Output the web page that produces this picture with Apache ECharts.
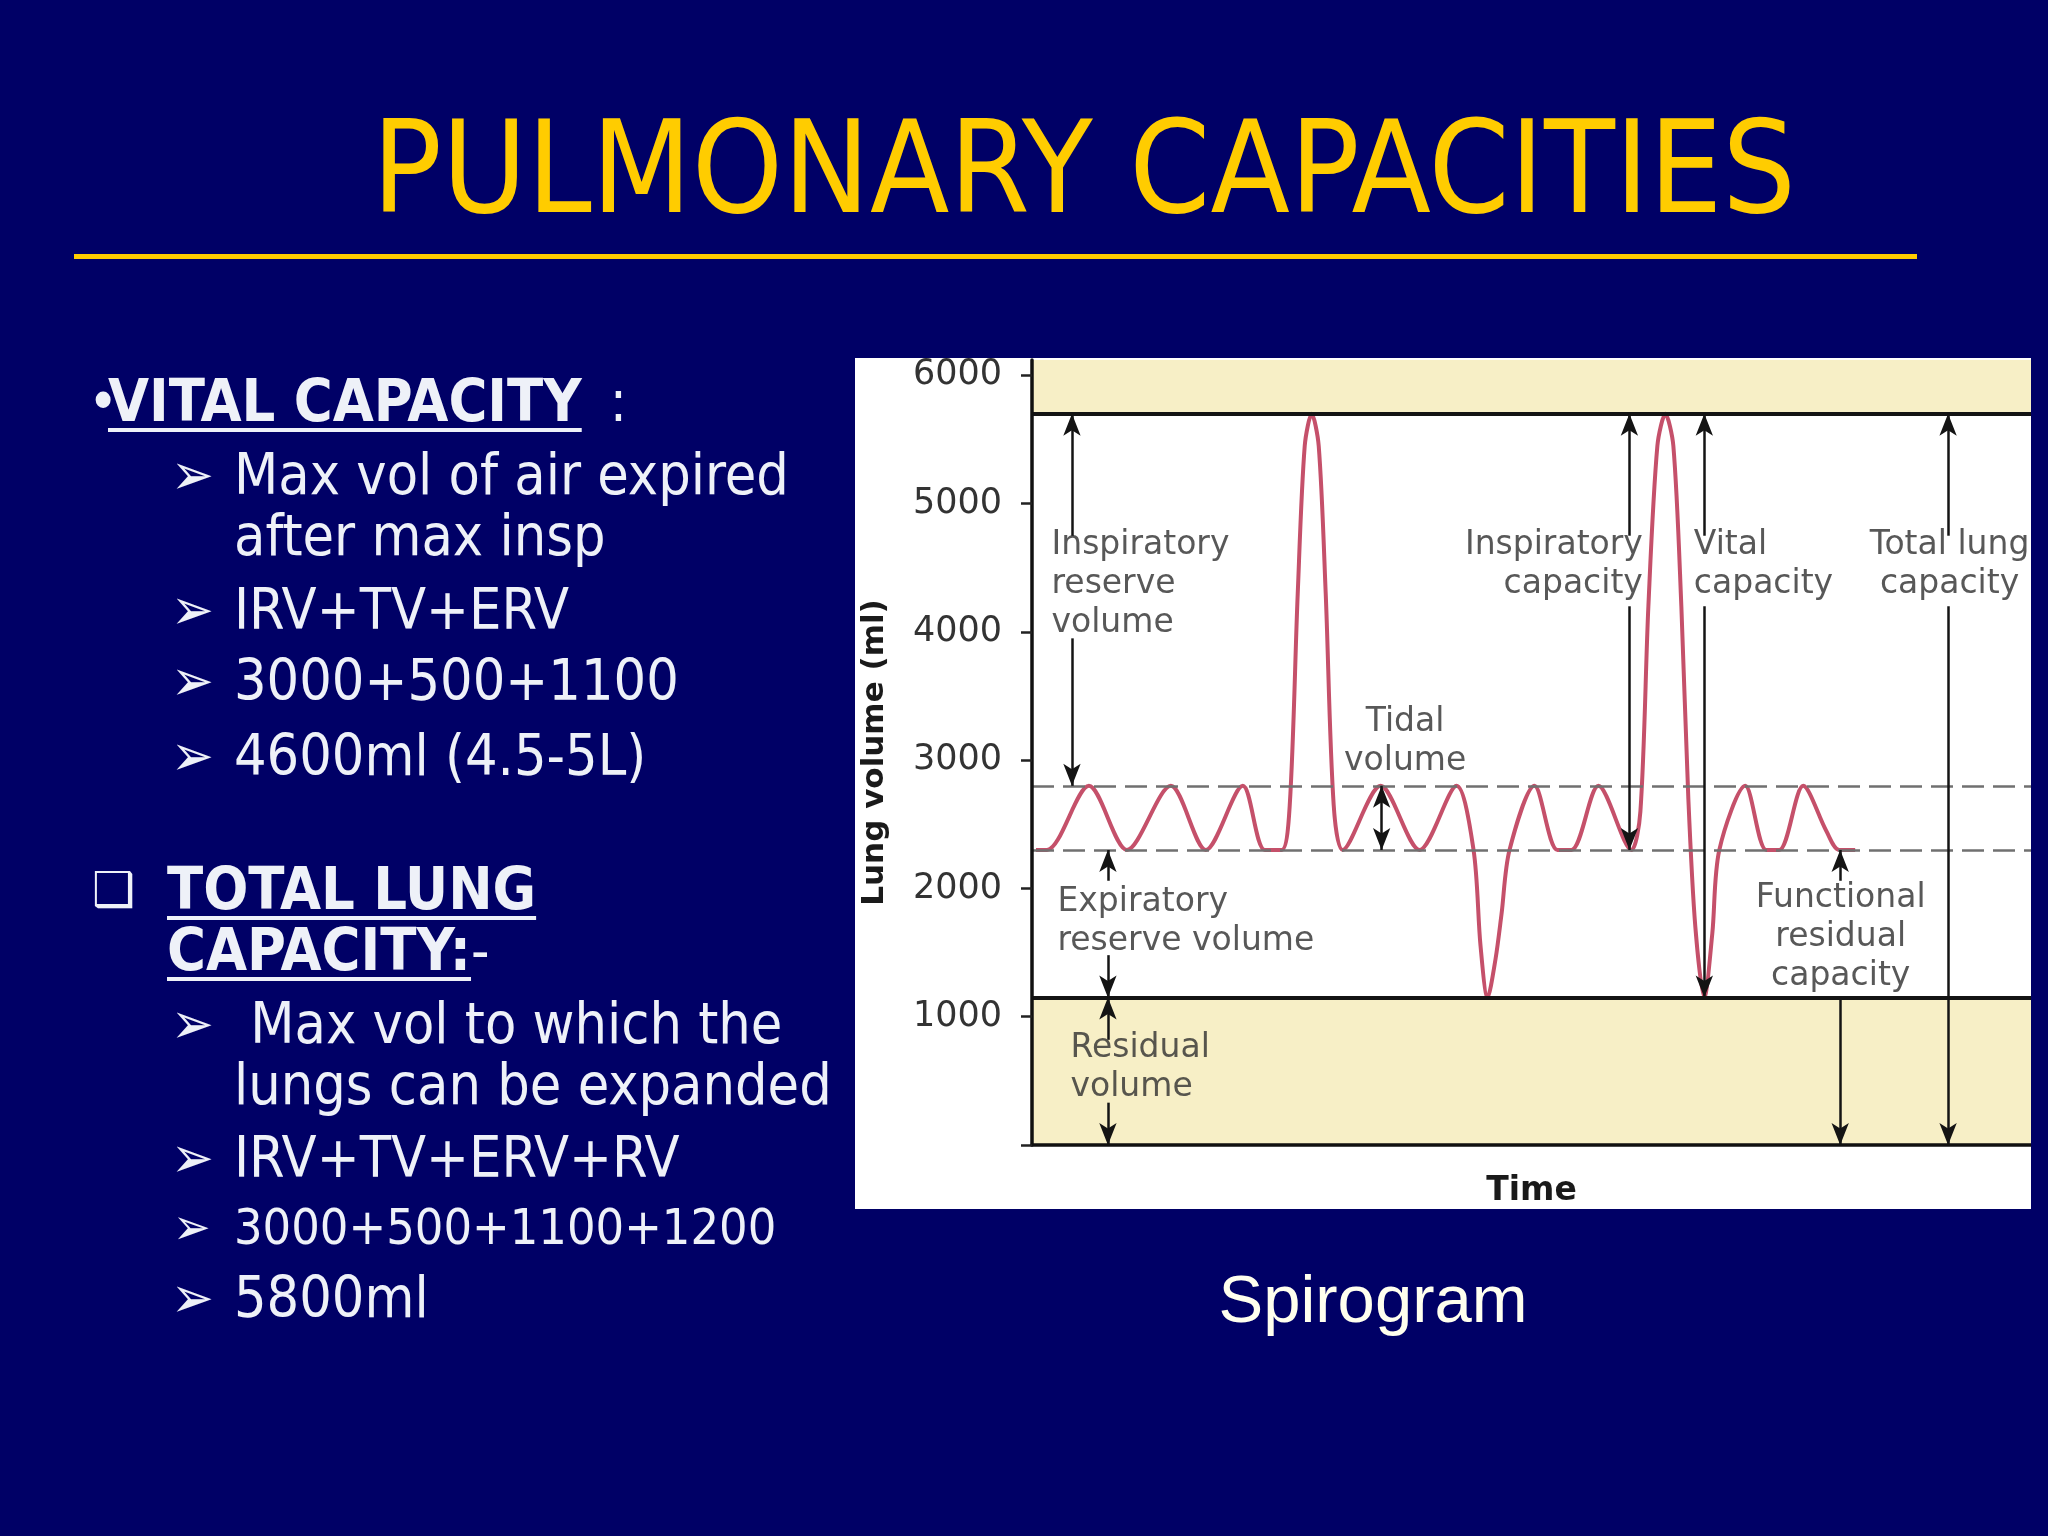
<!DOCTYPE html>
<html>
<head>
<meta charset="utf-8">
<script src="https://cdn.jsdelivr.net/npm/echarts@6/dist/echarts.min.js"></script>
<style>
html,body{margin:0;padding:0;background:#000066;}
#c{width:2048px;height:1536px;}
</style>
</head>
<body>
<div id="c"></div>
<script>
// ---------------- DATA ----------------
const yAxisMax = 6120;
const yTickInterval = 1000;
const timeMax = 100;

// spirogram trace (time in arbitrary units, volume in ml)
const curveTime = [0.4, 1.5, 5.7, 9.5, 13.9, 17.4, 21.1, 23.3, 25.0, 25.8, 26.6, 27.3, 28.0, 28.7, 29.4, 30.2, 31.1,
  34.9, 38.8, 42.5, 44.2, 44.9, 45.6, 46.4, 47.0, 47.8, 50.3, 52.6, 54.0, 56.7,
  60.0, 60.9, 61.7, 62.6, 63.4, 64.2, 65.0, 65.7, 66.4, 67.3, 68.1, 68.8, 71.4,
  73.5, 74.8, 77.2, 79.5, 80.8, 82.4];
const curveVolume = [2300, 2300, 2800, 2300, 2800, 2300, 2800, 2300, 2300, 2650, 4300, 5450, 5700, 5450, 4300, 2650, 2300,
  2800, 2300, 2800, 2300, 1550, 1150, 1450, 1800, 2300, 2800, 2300, 2300, 2800,
  2300, 2600, 4200, 5450, 5700, 5450, 4200, 2700, 1700, 1150, 1650, 2300, 2800,
  2300, 2300, 2800, 2450, 2300, 2300];

// reference levels (ml)
const solidLevels = [5700, 1150];      // total lung capacity, residual volume
const dashedLevels = [2800, 2300];     // end-inspiration, end-expiration (tidal)
const bandRanges = [[5700, 6120], [0, 1150]];

// arrows: time, start volume, end volume, heads
const arrowTime  = [4.0, 4.0, 35.0, 7.6, 7.6, 7.6, 7.6, 59.8, 59.8, 67.3, 67.3, 91.7, 91.7, 80.9, 80.9];
const arrowStart = [4750, 3950, 2300, 2060, 1480, 820, 330, 4750, 4200, 4750, 4200, 4750, 4200, 2060, 1150];
const arrowEnd   = [5700, 2800, 2800, 2300, 1150, 1150, 0, 5700, 2300, 5700, 1150, 5700, 0, 2300, 0];
const arrowHeads = ['end', 'end', 'both', 'end', 'end', 'end', 'end', 'end', 'end', 'end', 'end', 'end', 'end', 'end', 'end'];

// annotation labels: text, time, top volume, alignment
const noteText = ['Inspiratory\nreserve\nvolume', 'Tidal\nvolume', 'Expiratory\nreserve volume', 'Residual\nvolume',
  'Inspiratory\ncapacity', 'Vital\ncapacity', 'Total lung\ncapacity', 'Functional\nresidual\ncapacity'];
const noteTime   = [2.0, 37.4, 2.6, 3.9, 61.2, 66.3, 91.9, 81.0];
const noteVolume = [4820, 3440, 2040, 900, 4820, 4820, 4820, 2070];
const noteAlign  = ['left', 'center', 'left', 'left', 'right', 'left', 'center', 'center'];

// ---------------- BUILD ----------------
const chart = echarts.init(document.getElementById('c'), null, {renderer: 'canvas', width: 2048, height: 1536});
const SLIDE_FONT = '"DejaVu Sans Condensed", "DejaVu Sans", sans-serif';
const CHART_FONT = 'DejaVu Sans';
const mctx = document.createElement('canvas').getContext('2d');
function tw(font, s) { mctx.font = font; return mctx.measureText(s).width; }

const fReg = '57px ' + SLIDE_FONT;
const fSmall = '50px ' + SLIDE_FONT;
const fBold = 'bold 59px ' + SLIDE_FONT;
const textColor = '#EEF1F8';

const G = [];
function txt(s, x, y, font, fill, align) {
  G.push({type: 'text', x: x, y: y, z: 10, silent: true,
    style: {text: s, font: font, fill: fill || textColor, textAlign: align || 'left', textVerticalAlign: 'middle'}});
}
function bar(x, y, w, h, fill, z) {
  G.push({type: 'rect', z: z == null ? 10 : z, silent: true, shape: {x: x, y: y, width: w, height: h}, style: {fill: fill}});
}

// white picture panel
bar(855, 358, 1176, 851, '#FFFFFF', -1);
// title and rule
txt('PULMONARY CAPACITIES', 1084, 178, '129px ' + SLIDE_FONT, '#FFCC00', 'center');
bar(74, 254, 1843, 5, '#FFCC00');

// left column
txt('\u2022', 88, 406, fReg);
const wVital = tw(fBold, 'VITAL CAPACITY');
txt('VITAL CAPACITY', 108, 406, fBold);
bar(108, 428, wVital, 4, textColor);
txt(':', 108 + wVital + 28, 406, fReg);
const arrowX = 171, textX = 234;
const lines1 = [['Max vol of air expired', 479], ['after max insp', 540, true], ['IRV+TV+ERV', 614], ['3000+500+1100', 685], ['4600ml (4.5-5L)', 760]];
lines1.forEach(l => { if (!l[2]) txt('\u27A2', arrowX, l[1], fReg); txt(l[0], textX, l[1], fReg); });

txt('\u2751', 92, 894, '48px "DejaVu Sans"');
const wTotal = tw(fBold, 'TOTAL LUNG');
txt('TOTAL LUNG', 167, 894, fBold);
bar(167, 916, wTotal, 4, textColor);
const wCap = tw(fBold, 'CAPACITY:');
txt('CAPACITY:', 167, 955, fBold);
bar(167, 977, wCap, 4, textColor);
txt('-', 167 + wCap, 955, fReg);
const lines2 = [[' Max vol to which the', 1028], ['lungs can be expanded', 1089, true], ['IRV+TV+ERV+RV', 1162]];
lines2.forEach(l => { if (!l[2]) txt('\u27A2', arrowX, l[1], fReg); txt(l[0], textX, l[1], fReg); });
txt('\u27A2', arrowX + 2, 1231, fSmall); txt('3000+500+1100+1200', textX, 1231, fSmall);
txt('\u27A2', arrowX, 1302, fReg); txt('5800ml', textX, 1302, fReg);

// caption
txt('Spirogram', 1373, 1304, '67px "Liberation Sans", Arial, sans-serif', '#FFFFEE', 'center');
// slide edge to the right of the picture
bar(2031, 340, 17, 900, '#000066', 100);

// marker data
const bandData = bandRanges.map(r => [{yAxis: r[0]}, {yAxis: r[1]}]);
const levelData = solidLevels.map(v => ({yAxis: v, lineStyle: {color: '#141414', width: 4, type: 'solid'}}))
  .concat(dashedLevels.map(v => ({yAxis: v, lineStyle: {color: '#707070', width: 2.5, type: [22, 9]}})));
const arrowData = arrowTime.map((t, i) => [
  {coord: [t, arrowStart[i]], symbol: arrowHeads[i] === 'both' ? 'arrow' : 'none'},
  {coord: [t, arrowEnd[i]], symbol: 'arrow'}
]);
const noteData = noteText.map((s, i) => ({
  value: [noteTime[i], noteVolume[i]],
  label: {formatter: s, align: noteAlign[i]}
}));

const option = {
  backgroundColor: '#000066',
  animation: false,
  tooltip: {show: false},
  graphic: {elements: G},
  grid: {left: 1032, right: 17, top: 360, bottom: 391, containLabel: false},
  xAxis: {
    type: 'value', min: 0, max: timeMax, z: 5,
    axisLine: {show: true, onZero: false, lineStyle: {color: '#111', width: 3.5}},
    axisTick: {show: false}, axisLabel: {show: false}, splitLine: {show: false},
    name: 'Time', nameLocation: 'middle', nameGap: 30,
    nameTextStyle: {fontFamily: CHART_FONT, fontWeight: 'bold', fontSize: 33, color: '#1a1a1a'}
  },
  yAxis: {
    type: 'value', min: 0, max: yAxisMax, interval: yTickInterval, z: 5,
    axisLine: {show: true, lineStyle: {color: '#111', width: 3.5}},
    axisTick: {show: true, inside: false, length: 11, lineStyle: {color: '#222', width: 2.5}},
    axisLabel: {show: true, margin: 30, fontFamily: CHART_FONT, fontSize: 35, color: '#333333',
      formatter: v => (v === 0 ? '' : String(v))},
    splitLine: {show: false},
    name: 'Lung volume (ml)', nameLocation: 'middle', nameGap: 142, nameRotate: 90,
    nameTextStyle: {fontFamily: CHART_FONT, fontWeight: 'bold', fontSize: 31, color: '#1a1a1a'}
  },
  series: [
    {
      name: 'volume', type: 'line', smooth: 0.3, symbol: 'none', silent: true, z: 3,
      data: curveTime.map((t, i) => [t, curveVolume[i]]),
      lineStyle: {color: '#C5506A', width: 4},
      markArea: {silent: true, itemStyle: {color: '#F7EFC6'}, data: bandData},
      markLine: {silent: true, symbol: 'none', label: {show: false}, emphasis: {disabled: true}, data: levelData}
    },
    {
      name: 'annotations', type: 'scatter', symbol: 'circle', symbolSize: 1, silent: true, z: 4,
      itemStyle: {color: 'rgba(0,0,0,0)'},
      data: noteData,
      label: {show: true, position: [0, 0], verticalAlign: 'top', fontFamily: CHART_FONT, fontSize: 33,
        lineHeight: 39, color: '#2e2e2e'},
      markLine: {silent: true, symbolSize: [13, 22], label: {show: false}, emphasis: {disabled: true},
        lineStyle: {color: '#141414', width: 2.5, type: 'solid'}, data: arrowData}
    }
  ]
};
chart.setOption(option);
</script>
</body>
</html>
